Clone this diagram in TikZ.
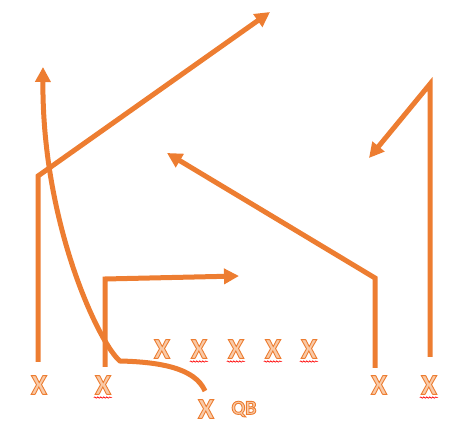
\documentclass[tikz,border=0pt]{standalone}
\usepackage{fontspec}
\setmainfont{Carlito}
\usetikzlibrary{arrows.meta,decorations.pathmorphing}
\definecolor{routeorange}{HTML}{ED7D31}
\definecolor{peach}{HTML}{F9CAA7}
\newcommand\outlined[1]{\special{pdf:literal q 2 Tr 0.9 w 0.929 0.490 0.192 RG}#1\special{pdf:literal Q}}

\begin{document}
\begin{tikzpicture}[x=1pt,y=-1pt,
    route/.style={draw=routeorange,line width=5pt},
    play/.style={-{Triangle[length=15pt,width=15pt]}},
    player/.style={inner sep=0pt,text=peach,font=\bfseries\fontsize{29}{29}\selectfont},
    tag/.style={inner sep=0pt,text=peach,font=\bfseries\fontsize{20}{20}\selectfont},
    squiggle/.style={draw=red,line width=0.6pt,decorate,
      decoration={snake,amplitude=0.7pt,segment length=3pt}}]
  \useasboundingbox (0,0) rectangle (474,435);

  \node[player] (lw) at (39,385) {\outlined{X}};
  \node[player] (sl) at (103,385) {\outlined{X}};
  \node[player] (rs) at (379,385) {\outlined{X}};
  \node[player] (rw) at (429,385) {\outlined{X}};
  \node[player] (lt) at (162,349) {\outlined{X}};
  \node[player] (lg) at (199,349) {\outlined{X}};
  \node[player] (ctr) at (236,349) {\outlined{X}};
  \node[player] (rg) at (273,349) {\outlined{X}};
  \node[player] (rt) at (309,349) {\outlined{X}};
  \node[player] (qb) at (206,409) {\outlined{X}};
  \node[tag] (qbname) at (244,409) {\outlined{QB}};

  \foreach \p in {sl,rw,lg,ctr,rg,rt}
    \draw[squiggle] ([xshift=-1pt,yshift=-3pt]\p.south west) -- ([xshift=1pt,yshift=-3pt]\p.south east);

  \coordinate (lw start) at (38,362);
  \coordinate (lw cut) at (38,176);
  \coordinate (lw end) at (270,12);
  \draw[route,play] (lw start) -- (lw cut) -- (lw end);

  \coordinate (sl start) at (105,367);
  \coordinate (sl cut) at (105,279);
  \coordinate (sl end) at (239,276);
  \draw[route,play] (sl start) -- (sl cut) -- (sl end);

  \coordinate (rs start) at (375,368);
  \coordinate (rs cut) at (375,278);
  \coordinate (rs end) at (167,153);
  \draw[route,play] (rs start) -- (rs cut) -- (rs end);

  \coordinate (rw start) at (430,357);
  \coordinate (rw cut) at (430,84);
  \coordinate (rw end) at (369,158);
  \draw[route,play] (rw start) -- (rw cut) -- (rw end);

  \coordinate (rb start) at (205,391);
  \coordinate (rb turn) at (120,361);
  \coordinate (rb end) at (43,67);
  \draw[route,play] (rb start) .. controls (195,368) and (160,362) .. (rb turn)
    .. controls (100,345) and (42,225) .. (rb end);
\end{tikzpicture}
\end{document}
